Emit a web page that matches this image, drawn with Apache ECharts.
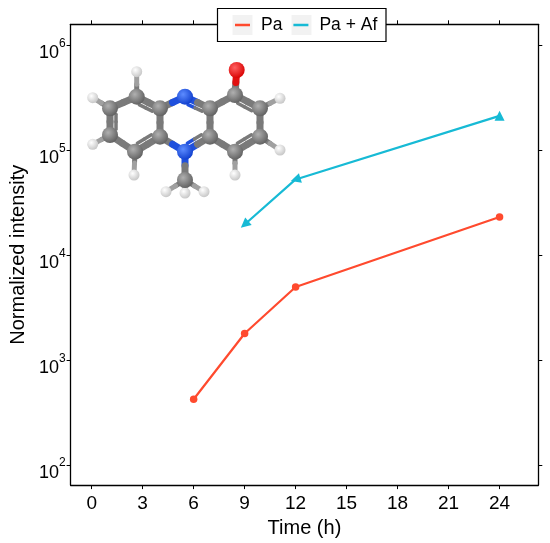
<!DOCTYPE html>
<html>
<head>
<meta charset="utf-8">
<script src="https://cdn.jsdelivr.net/npm/echarts@6/dist/echarts.min.js"></script>
<style>
html,body{margin:0;padding:0;background:#fff;}
#chart{width:550px;height:543px;}
</style>
</head>
<body>
<div id="chart"></div>
<script>
// ---- data ----
var seriesNames = ['Pa', 'Pa + Af'];
var paTime = [6, 9, 12, 24];
var paValues = [425, 1800, 5000, 23200];
var pafTime = [9, 12, 24];
var pafValues = [19700, 53000, 214000];
var xTickValues = [0, 3, 6, 9, 12, 15, 18, 21, 24];
var yTickValues = [100, 1000, 10000, 100000, 1000000];

// ---- decoration: pyocyanin ball-and-stick sketch (pixel positions) ----
var atomPos = [
  [136.7,96.7,'C'],[110,108.3,'C'],[110,135,'C'],[135,151.7,'C'],[160,136.7,'C'],[160,108.3,'C'],
  [185,96.7,'N'],[185,151.7,'N'],[210,108.3,'C'],[210,136.7,'C'],
  [235,95,'C'],[260,108.3,'C'],[260,136.7,'C'],[235,151.7,'C'],
  [236.7,70,'O'],[185,180,'C'],
  [136.7,71.7,'H'],[92.7,97.7,'H'],[92.7,144.3,'H'],[134,175,'H'],
  [280,98.3,'H'],[280,150,'H'],[235,175,'H'],
  [166,191.7,'H'],[185,193,'H'],[204,191.7,'H']
];
var bondList = [
  [0,1,0],[1,2,1],[2,3,0],[3,4,1],[4,5,0],[5,0,1],
  [5,6,0],[6,8,1],[4,7,0],[7,9,1],[8,9,0],
  [8,10,0],[10,11,1],[11,12,0],[12,13,1],[13,9,0],
  [10,14,0],[7,15,0],
  [0,16,0],[1,17,0],[2,18,0],[3,19,0],[11,20,0],[12,21,0],[13,22,0],
  [15,23,0],[15,24,0],[15,25,0]
];
var ringCenters = [[135,122],[185,122],[235,122]];

var RED = '#FF4A2E';
var CYAN = '#17BAD5';
var FONT = "'Liberation Sans', Arial, Helvetica, sans-serif";

var atomStyle = {
  C: {r: 8, hi: '#b0b0b0', lo: '#5e5e5e', bond: '#7a7a7a'},
  N: {r: 8, hi: '#5d8cff', lo: '#0d3ccc', bond: '#1f50dd'},
  O: {r: 8, hi: '#ff6060', lo: '#d80000', bond: '#e01010'},
  H: {r: 5.5, hi: '#ffffff', lo: '#c4c4c4', bond: '#a0a0a0'}
};

function nearestRing(mx, my) {
  var best = ringCenters[0], bd = 1e9;
  ringCenters.forEach(function (c) {
    var d = (c[0]-mx)*(c[0]-mx) + (c[1]-my)*(c[1]-my);
    if (d < bd) { bd = d; best = c; }
  });
  return best;
}

function buildMolecule() {
  var els = [];
  bondList.forEach(function (b) {
    var a = atomPos[b[0]], c = atomPos[b[1]];
    var mx = (a[0]+c[0])/2, my = (a[1]+c[1])/2;
    var ca = atomStyle[a[2]].bond, cc = atomStyle[c[2]].bond;
    var isH = (a[2]==='H' || c[2]==='H');
    if (isH) { ca = a[2]==='H' ? atomStyle.H.bond : '#7a7a7a'; cc = c[2]==='H' ? atomStyle.H.bond : '#7a7a7a'; }
    var w = isH ? 5 : 7;
    els.push({type:'line', z: 5, shape:{x1:a[0],y1:a[1],x2:mx,y2:my}, style:{stroke:ca, lineWidth:w, lineCap:'round'}});
    els.push({type:'line', z: 5, shape:{x1:mx,y1:my,x2:c[0],y2:c[1]}, style:{stroke:cc, lineWidth:w, lineCap:'round'}});
    if (b[2]) {
      var rc = nearestRing(mx, my);
      var dx = c[0]-a[0], dy = c[1]-a[1], L = Math.sqrt(dx*dx+dy*dy);
      var nx = -dy/L, ny = dx/L;
      if ((rc[0]-mx)*nx + (rc[1]-my)*ny < 0) { nx = -nx; ny = -ny; }
      var off = 6, sh = 0.22;
      var x1 = a[0] + dx*sh + nx*off, y1 = a[1] + dy*sh + ny*off;
      var x2 = c[0] - dx*sh + nx*off, y2 = c[1] - dy*sh + ny*off;
      var xm = (x1+x2)/2, ym = (y1+y2)/2;
      els.push({type:'line', z: 5, shape:{x1:x1,y1:y1,x2:xm,y2:ym}, style:{stroke:ca, lineWidth:3.5, lineCap:'round'}});
      els.push({type:'line', z: 5, shape:{x1:xm,y1:ym,x2:x2,y2:y2}, style:{stroke:cc, lineWidth:3.5, lineCap:'round'}});
    }
  });
  var order = [];
  atomPos.forEach(function (p, i) { if (p[2]==='H') order.push(i); });
  atomPos.forEach(function (p, i) { if (p[2]!=='H') order.push(i); });
  order.forEach(function (i) {
    var p = atomPos[i], s = atomStyle[p[2]];
    els.push({
      type:'circle', z: 6,
      shape:{cx:p[0], cy:p[1], r:s.r},
      style:{fill:{type:'radial', x:0.38, y:0.35, r:0.7,
        colorStops:[{offset:0,color:s.hi},{offset:1,color:s.lo}]}}
    });
  });
  return els;
}

var legendBox = [
  {type:'rect', z: 5, shape:{x:217.5, y:8.5, width:168.5, height:33}, style:{fill:'#fff', stroke:'#000', lineWidth:1.2}},
  {type:'rect', z: 6, shape:{x:232.5, y:15, width:20, height:20}, style:{fill:'#f2f2f2'}},
  {type:'rect', z: 6, shape:{x:291.5, y:15, width:20, height:20}, style:{fill:'#f2f2f2'}}
];

var chart = echarts.init(document.getElementById('chart'), null, {renderer:'canvas'});

function yLabel(v) {
  var e = Math.round(Math.log(v) / Math.LN10);
  return '{b|10}{s|' + e + '}';
}

var axisLineStyle = {show:true, onZero:false, lineStyle:{color:'#000', width:1.3}};
function ticks(vals) {
  return {show:true, inside:false, length:4, lineStyle:{color:'#000', width:1}, customValues: vals};
}

chart.setOption({
  animation: false,
  backgroundColor: '#fff',
  grid: {left:65.3, right:11.7, top:24.3, bottom:57, containLabel:false},
  legend: {
    data: seriesNames,
    left: 235, top: 16,
    z: 10,
    itemWidth: 15, itemHeight: 2.5,
    itemGap: 11,
    icon: 'rect',
    padding: 0,
    textStyle: {fontFamily: FONT, fontSize: 17.5, color: '#000', padding:[0,0,0,6]}
  },
  xAxis: [{
    type: 'value', position: 'bottom',
    min: -1.24, max: 26.28,
    axisLine: axisLineStyle,
    axisTick: ticks(xTickValues),
    axisLabel: {customValues: xTickValues, fontFamily: FONT, fontSize: 19, color:'#000', margin: 9},
    splitLine: {show:false},
    name: 'Time (h)', nameLocation: 'middle', nameGap: 28,
    nameTextStyle: {fontFamily: FONT, fontSize: 20, color:'#000'}
  }, {
    type: 'value', position: 'top',
    min: -1.24, max: 26.28,
    axisLine: axisLineStyle,
    axisTick: ticks(xTickValues),
    axisLabel: {show:false},
    splitLine: {show:false}
  }],
  yAxis: [{
    type: 'log', logBase: 10, position: 'left',
    min: 64.5, max: 1.598e6,
    axisLine: axisLineStyle,
    axisTick: ticks(yTickValues),
    axisLabel: {
      customValues: yTickValues,
      margin: 5,
      formatter: yLabel,
      padding: [15,0,0,0],
      rich: {
        b: {fontFamily: FONT, fontSize: 18, color:'#000', lineHeight: 31},
        s: {fontFamily: FONT, fontSize: 12, color:'#000', lineHeight: 12, verticalAlign:'top'}
      }
    },
    splitLine: {show:false},
    name: 'Normalized intensity', nameLocation: 'middle', nameGap: 40, nameRotate: 90,
    nameTextStyle: {fontFamily: FONT, fontSize: 20, color:'#000'}
  }, {
    type: 'log', logBase: 10, position: 'right',
    min: 64.5, max: 1.598e6,
    axisLine: axisLineStyle,
    axisTick: ticks(yTickValues),
    axisLabel: {show:false},
    splitLine: {show:false}
  }],
  series: [{
    name: seriesNames[0], type: 'line',
    xAxisIndex: 0, yAxisIndex: 0,
    data: paTime.map(function (t, i) { return [t, paValues[i]]; }),
    symbol: 'circle', symbolSize: 7.5,
    lineStyle: {color: RED, width: 2.2},
    itemStyle: {color: RED},
    z: 3
  }, {
    name: seriesNames[1], type: 'line',
    xAxisIndex: 0, yAxisIndex: 0,
    data: pafTime.map(function (t, i) { return [t, pafValues[i]]; }),
    symbol: 'triangle', symbolSize: 10,
    symbolRotate: function (v, p) { return [130, 107, 0][p.dataIndex]; },
    lineStyle: {color: CYAN, width: 2.2},
    itemStyle: {color: CYAN},
    z: 3
  }],
  graphic: legendBox.concat(buildMolecule())
});
</script>
</body>
</html>
